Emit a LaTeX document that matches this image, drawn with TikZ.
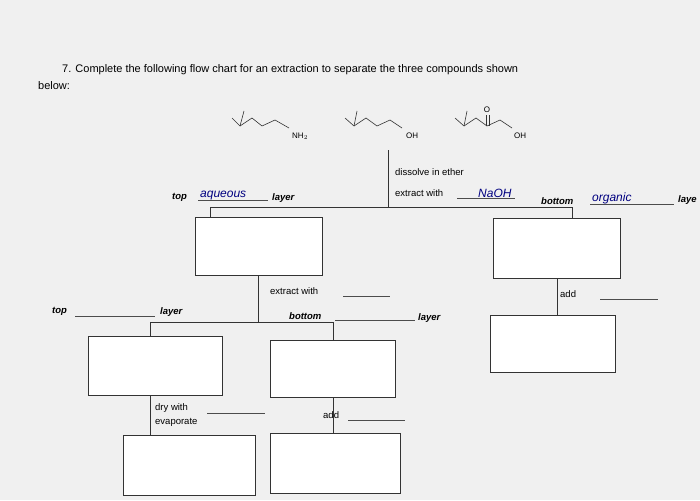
\documentclass[tikz,border=0pt]{standalone}
\usepackage{fontspec}
\setmainfont{Liberation Sans}
\begin{document}
\begin{tikzpicture}[x=1pt,y=-1pt,
  bx/.style={draw=black!80,line width=0.8pt,fill=white},
  ln/.style={draw=black!80,line width=0.8pt},
  lbl/.style={font=\fontsize{9.5}{11}\selectfont\bfseries\itshape,anchor=west,inner sep=0},
  tx/.style={font=\fontsize{9.5}{11}\selectfont,anchor=west,inner sep=0},
  hw/.style={font=\fontsize{12}{13}\selectfont\itshape,text=blue!50!black,inner sep=0,anchor=south west},
  bl/.style={draw=black!70,line width=0.5pt}]
\fill[black!6] (0,0) rectangle (700,500);
\useasboundingbox (0,0) rectangle (700,500);
\node[tx,font=\fontsize{11}{13}\selectfont] (t1) at (62,70) {7. Complete the following flow chart for an extraction to separate the three compounds shown};
\node[tx,font=\fontsize{11}{13}\selectfont] (t2) at (38,86) {below:};
% molecules
\draw[ln,line width=0.6pt] (232,118)--(240,126)--(252,118)--(262,126)--(275,120)--(289,128);
\draw[ln,line width=0.6pt] (240,126)--(244,111);
\node[tx,font=\fontsize{8}{9}\selectfont] (nh) at (292,136) {NH$_2$};
\draw[ln,line width=0.6pt] (345,118)--(354,126)--(366,118)--(377,126)--(390,120)--(402,128);
\draw[ln,line width=0.6pt] (354,126)--(357,111);
\node[tx,font=\fontsize{8}{9}\selectfont] (oh1) at (406,136) {OH};
\draw[ln,line width=0.6pt] (455,118)--(464,126)--(476,118)--(487,126)--(500,120)--(512,128);
\draw[ln,line width=0.6pt] (464,126)--(467,111);
\draw[ln,line width=0.6pt] (486,126)--(486,115) (489,126)--(489,115);
\node[font=\fontsize{8}{9}\selectfont,inner sep=0] (o) at (487,110) {O};
\node[tx,font=\fontsize{8}{9}\selectfont] (oh2) at (514,136) {OH};
% top stage
\coordinate (s0) at (388,150);
\coordinate (s1) at (388,207);
\draw[ln] (s0)--(s1);
\node[tx] (d1) at (395,172) {dissolve in ether};
\node[tx] (d2) at (395,193) {extract with};
\draw[bl] (457,198)--(515,198);
\node[hw] at (478,198) {NaOH};
\coordinate (h1) at (210,207); \coordinate (h2) at (572,207);
\draw[ln] (h1)--(h2);
\node[lbl] at (172,197) {top};
\draw[bl] (198,200)--(268,200);
\node[hw] at (200,200) {aqueous};
\node[lbl] at (272,198) {layer};
\node[lbl] at (541,201) {bottom};
\draw[bl] (590,204)--(674,204);
\node[hw] at (592,204) {organic};
\node[lbl] at (678,200) {laye};
\node[bx,minimum width=127,minimum height=58,anchor=north west] (A) at (195,217) {};
\node[bx,minimum width=127,minimum height=60,anchor=north west] (B) at (493,218) {};
\draw[ln] (h1)--(h1|-A.north);
\draw[ln] (h2)--(h2|-B.north);
% second stage
\coordinate (m) at (258,322);
\draw[ln] (A.south-|m)--(m);
\node[tx] at (270,291) {extract with};
\draw[bl] (343,296)--(390,296);
\coordinate (g1) at (150,322); \coordinate (g2) at (333,322);
\draw[ln] (g1)--(g2);
\node[lbl] at (52,311) {top};
\draw[bl] (75,316)--(155,316);
\node[lbl] at (160,312) {layer};
\node[lbl] at (289,316) {bottom};
\draw[bl] (335,320)--(415,320);
\node[lbl] at (418,318) {layer};
\node[bx,minimum width=134,minimum height=59,anchor=north west] (C) at (88,336) {};
\node[bx,minimum width=125,minimum height=57,anchor=north west] (D) at (270,340) {};
\draw[ln] (g1)--(g1|-C.north);
\draw[ln] (g2)--(g2|-D.north);
\node[tx] at (560,294) {add};
\draw[bl] (600,299)--(658,299);
\node[bx,minimum width=125,minimum height=57,anchor=north west] (E) at (490,315) {};
\draw[ln] (B.south-|557,0)--(E.north-|557,0);
% third stage
\node[bx,minimum width=132,minimum height=60,anchor=north west] (F) at (123,435) {};
\node[bx,minimum width=130,minimum height=60,anchor=north west] (G) at (270,433) {};
\draw[ln] (C.south-|150,0)--(F.north-|150,0);
\draw[ln] (D.south-|333,0)--(G.north-|333,0);
\node[tx] at (155,408) {dry with};
\draw[bl] (207,413)--(265,413);
\node[tx] at (155,422) {evaporate};
\node[tx] at (323,415) {add};
\draw[bl] (348,420)--(405,420);
\end{tikzpicture}
\end{document}
